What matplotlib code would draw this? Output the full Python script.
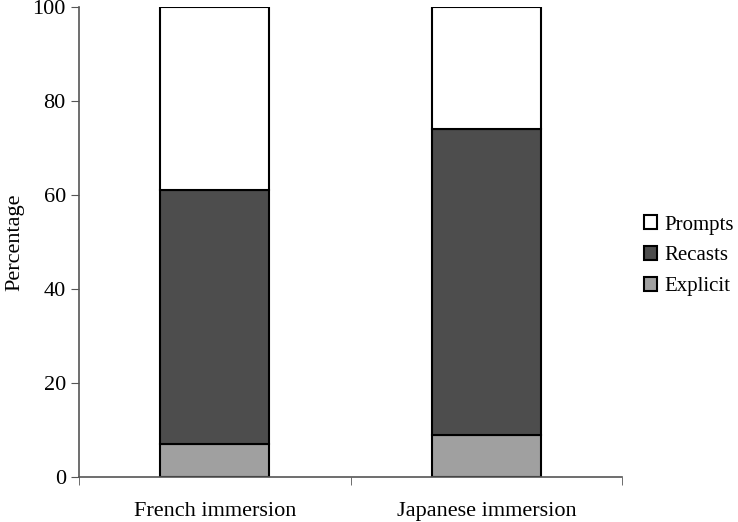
import numpy as np
import matplotlib.pyplot as plt

plt.rcParams['font.family'] = ['Liberation Serif', 'DejaVu Serif']

categories = ['French immersion', 'Japanese immersion']
explicit = [7, 9]
recasts = [54, 65]
prompts = [39, 26]

fig = plt.figure(figsize=(7.38, 5.22), dpi=100)
ax = fig.add_axes([0.107, 0.0862, 0.736, 0.9004])

x = np.arange(len(categories))
w = 0.4
edge = dict(edgecolor='black', linewidth=1.5)
b1 = ax.bar(x, explicit, w, color='#a0a0a0', label='Explicit', **edge)
b2 = ax.bar(x, recasts, w, bottom=explicit, color='#4d4d4d', label='Recasts', **edge)
bottom2 = np.array(explicit) + np.array(recasts)
b3 = ax.bar(x, prompts, w, bottom=bottom2, color='white', label='Prompts', **edge)

ax.set_xlim(-0.5, 1.5)
ax.set_ylim(0, 100)
ax.set_yticks([0, 20, 40, 60, 80, 100])
ax.set_xticks(x)
ax.set_xticklabels(categories)
ax.set_xticks([-0.5, 0.5, 1.5], minor=True)
ax.tick_params(axis='x', which='major', length=0, labelsize=16, pad=18)
ax.tick_params(axis='x', which='minor', length=6, direction='out', color='#555555')
ax.tick_params(axis='y', length=6, direction='out', labelsize=16, color='#555555')
ax.set_ylabel('Percentage', fontsize=16, labelpad=6)

for s in ['top', 'right']:
    ax.spines[s].set_visible(False)
for s in ['left', 'bottom']:
    ax.spines[s].set_color('#555555')
    ax.spines[s].set_linewidth(1.2)

fig.legend(handles=[b3, b2, b1], labels=['Prompts', 'Recasts', 'Explicit'],
           loc='center left', bbox_to_anchor=(0.872, 0.51), frameon=False,
           fontsize=15, handlelength=0.65, handleheight=0.65, handletextpad=0.35,
           labelspacing=0.55, borderaxespad=0, borderpad=0)

fig.savefig('out.png', dpi=100)
